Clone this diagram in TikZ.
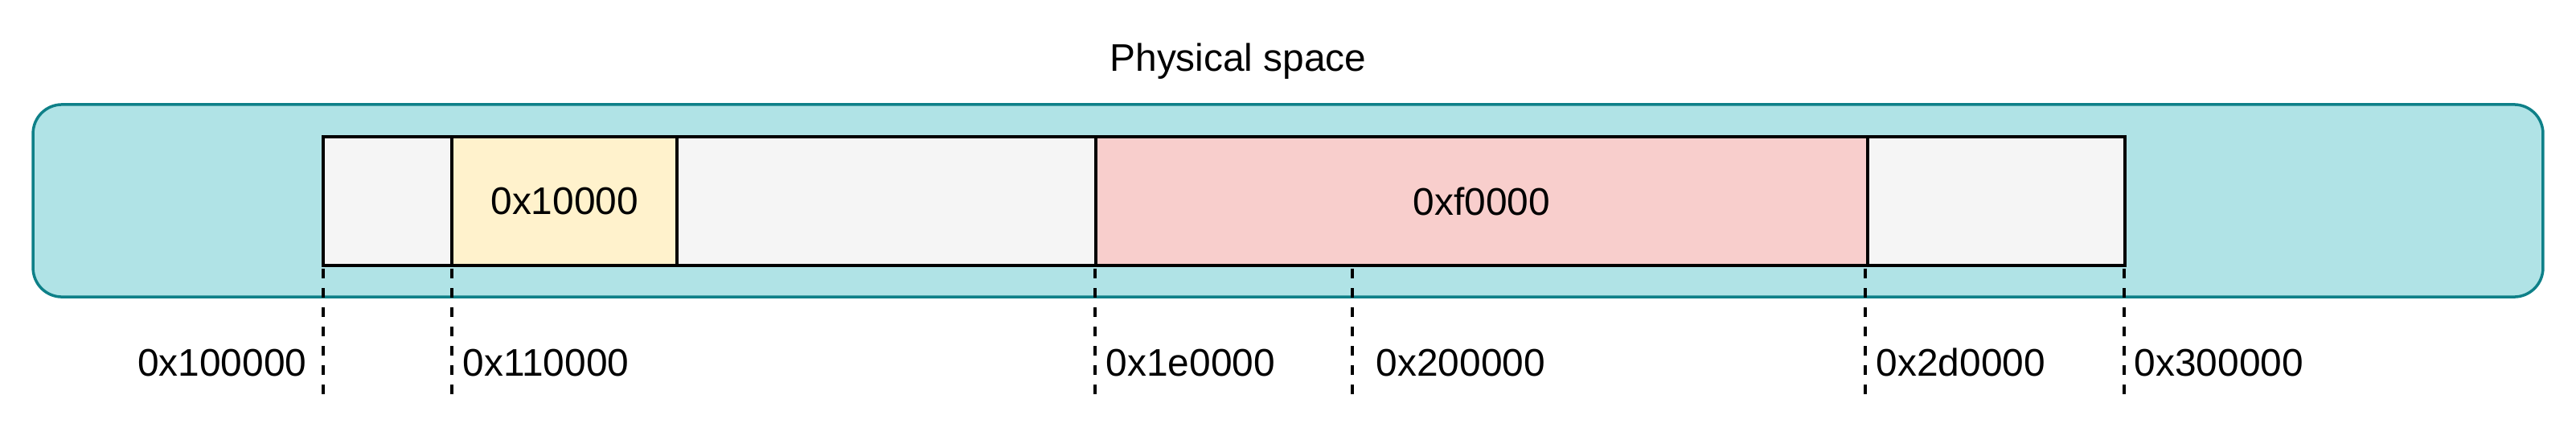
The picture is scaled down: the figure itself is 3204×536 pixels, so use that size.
\documentclass[tikz,border=0pt]{standalone}
\usepackage{fontspec}
\setmainfont{Liberation Sans}
\usepackage{tikz}
\usetikzlibrary{positioning}
\definecolor{physfill}{HTML}{B0E3E6}
\definecolor{physline}{HTML}{0E8088}
\definecolor{freefill}{HTML}{F5F5F5}
\definecolor{kernfill}{HTML}{FFF2CC}
\definecolor{imgfill}{HTML}{F8CECC}

\begin{document}
\begin{tikzpicture}[
    x=0.01cm, y=-0.01cm,
    every node/.style={font=\fontsize{13.6pt}{16pt}\selectfont, inner sep=0pt},
    space/.style={rectangle, draw=physline, fill=physfill, rounded corners=0.36cm, line width=0.035cm, minimum width=31.2cm, minimum height=2.39cm},
    region/.style={rectangle, draw=black, line width=0.04cm, minimum height=1.6cm, outer sep=0pt},
    free/.style={region, fill=freefill},
    addrline/.style={draw=black, line width=0.04cm, dash pattern=on 0.12cm off 0.12cm}
]
\useasboundingbox (0,0) rectangle (3204,536);

% Nodes
\node[anchor=base] (title) at (1540,88) {Physical space};
\node[space] (phys) at (1602,249.5) {};
\node[free, minimum width=1.6cm, anchor=north west] (low) at (402,170) {};
\node[region, fill=kernfill, minimum width=2.8cm, right=0pt of low] (kernel) {0x10000};
\node[free, minimum width=5.2cm, right=0pt of kernel] (gap) {};
\node[region, fill=imgfill, minimum width=9.6cm, right=0pt of gap] (image) {0xf0000};
\node[free, minimum width=3.2cm, right=0pt of image] (high) {};

% Address marks
\coordinate (m0t) at (402,334);  \coordinate (m0b) at (402,490);
\coordinate (m1t) at (562,334);  \coordinate (m1b) at (562,490);
\coordinate (m2t) at (1362,334); \coordinate (m2b) at (1362,490);
\coordinate (m3t) at (1682,334); \coordinate (m3b) at (1682,490);
\coordinate (m4t) at (2320,334); \coordinate (m4b) at (2320,490);
\coordinate (m5t) at (2642,334); \coordinate (m5b) at (2642,490);

\node[anchor=base east] (addr0) at (382,467) {0x100000};
\node[anchor=base west] (addr1) at (575,467) {0x110000};
\node[anchor=base west] (addr2) at (1375,467) {0x1e0000};
\node[anchor=base west] (addr3) at (1711,467) {0x200000};
\node[anchor=base west] (addr4) at (2333,467) {0x2d0000};
\node[anchor=base west] (addr5) at (2654,467) {0x300000};

% Dashed lines
\draw[addrline] (m0t) -- (m0b);
\draw[addrline] (m1t) -- (m1b);
\draw[addrline] (m2t) -- (m2b);
\draw[addrline] (m3t) -- (m3b);
\draw[addrline] (m4t) -- (m4b);
\draw[addrline] (m5t) -- (m5b);

\end{tikzpicture}
\end{document}
